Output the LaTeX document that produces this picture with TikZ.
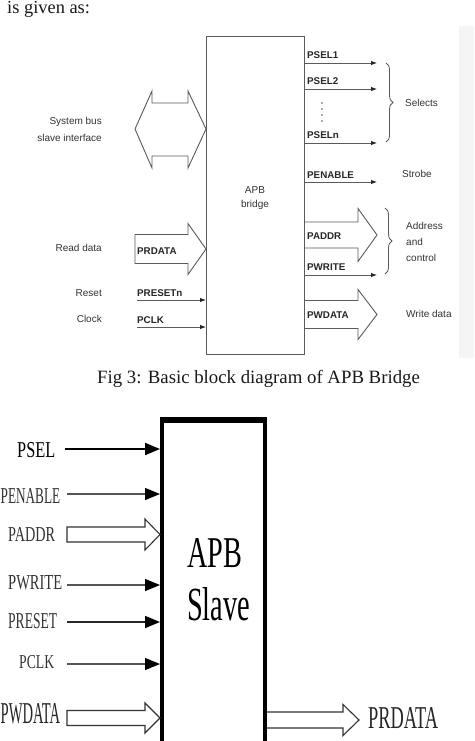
\documentclass[tikz,border=0pt]{standalone}
\usepackage{fontspec}
\setmainfont{Liberation Serif}
\setsansfont{Liberation Sans}
\usetikzlibrary{arrows.meta,decorations.pathreplacing}
\definecolor{tgray}{HTML}{5A5A5A}
\definecolor{tdark}{HTML}{333333}
\definecolor{bgray}{HTML}{555555}
\newcommand\cond[3]{\resizebox{#1pt}{#2pt}{#3}}
\newcommand\blkarrow[8]{%
  \draw[#1] ({#2},{#5-#6}) -- ({#3},{#5-#6}) -- ({#3},{#5-#7}) -- ({#4},{#5}) -- ({#3},{#5+#7}) -- ({#3},{#5+#6}) -- ({#2},{#5+#6}) #8;}
\begin{document}
\begin{tikzpicture}[x=1pt,y=-1pt,
  sig/.style={draw=tgray, line width=0.9pt, -{Latex[length=6pt,width=4.5pt,color=black!85]}},
  blk/.style={draw=tgray, line width=0.9pt},
  lbl/.style={font=\sffamily\bfseries\fontsize{9.8}{11}\selectfont, text=black!85, inner sep=0pt},
  txt/.style={font=\sffamily\fontsize{10}{11.5}\selectfont, text=tdark, inner sep=0pt},
  brc/.style={draw=tgray, line width=0.8pt, decorate, decoration={brace, amplitude=7pt}},
  ser/.style={inner sep=0pt, anchor=base west},
  bsig/.style={draw=bgray, line width=1.2pt, -{Triangle[length=15pt,width=12pt,color=black]}},
  bblk/.style={draw=black!80, line width=1.1pt}]
\clip (0,0) rectangle (474,741);
\fill[white] (0,0) rectangle (474,741);
\fill[black!4] (459,26) rectangle (474,358);

% ---------- top text ----------
\node[ser, font=\fontsize{18.4}{20}\selectfont, text=black!90] (intro) at (7,14) {is given as:};
\node[ser, font=\fontsize{18.8}{21}\selectfont, text=black!90] (caption) at (97,383) {Fig 3: Basic block diagram of APB Bridge};

% ---------- APB bridge ----------
\node[draw=tgray, line width=1pt, minimum width=98pt, minimum height=317pt, inner sep=0pt, outer sep=0pt] (br) at (255,195.5) {};
\node[txt, anchor=base] (brA) at (255,193) {APB};
\node[txt, anchor=base] (brB) at (255,207) {bridge};

% right single signals
\foreach \n/\y in {s1/63, s2/89, sn/143, en/182, wr/275} {
  \coordinate (\n) at (377,\y);
  \draw[sig] (br.east |- \n) -- (\n);
}
\node[lbl, anchor=base west] (ls1) at (307,59) {PSEL1};
\node[lbl, anchor=base west] (ls2) at (307,85) {PSEL2};
\node[lbl, anchor=base west] (lsn) at (307,139) {PSELn};
\node[lbl, anchor=base west] (len) at (307,178) {PENABLE};
\node[lbl, anchor=base west] (lwr) at (307,270) {PWRITE};
\foreach \y in {103,109,115,121} \fill[tgray] (322,\y) circle (0.8);

% right bus arrows
\blkarrow{blk}{304}{358}{377}{235}{13}{26.5}{}
\blkarrow{blk}{304}{358}{377}{314.5}{14}{25}{}
\node[lbl, anchor=west] (lad) at (307,236) {PADDR};
\node[lbl, anchor=west] (lwd) at (307,315) {PWDATA};

% braces and descriptions
\draw[brc] (386,63) -- (386,142);
\draw[brc] (385,208) -- (385,274);
\node[txt, anchor=west] (tsel) at (405,103) {Selects};
\node[txt, anchor=west] (tstr) at (402,174) {Strobe};
\node[txt, anchor=west] (tad1) at (406,226) {Address};
\node[txt, anchor=west] (tad2) at (406,242) {and};
\node[txt, anchor=west] (tad3) at (406,258) {control};
\node[txt, anchor=west] (twd) at (406,314) {Write data};

% left system bus double arrow
\draw[blk] (152,103) -- (152,91) -- (135,129) -- (152,168) -- (152,156) -- (188,156) -- (188,168) -- (206,129) -- (188,91) -- (188,103) -- cycle;
\node[txt, anchor=east] (tsb1) at (102,122) {System bus};
\node[txt, anchor=east] (tsb2) at (102,138) {slave interface};

% left PRDATA bus
\blkarrow{blk}{135}{188}{206}{249}{14.5}{25.5}{-- cycle}
\node[lbl, anchor=west] (lrd) at (137,251) {PRDATA};
\node[txt, anchor=east] (trd) at (102,248) {Read data};

% reset and clock
\coordinate (rs) at (137,300);
\coordinate (ck) at (137,327);
\draw[sig] (rs) -- (br.west |- rs);
\draw[sig] (ck) -- (br.west |- ck);
\node[lbl, anchor=base west] (lrs) at (137,296) {PRESETn};
\node[lbl, anchor=base west] (lck) at (137,323) {PCLK};
\node[txt, anchor=east] (trs) at (102,293) {Reset};
\node[txt, anchor=east] (tck) at (102,319) {Clock};

% ---------- APB slave ----------
\node[draw=black, line width=4pt, minimum width=103pt, minimum height=400pt, inner sep=0pt, anchor=north west] (slave) at (160,417) {};
\fill[black] (160,417) rectangle (267,423);
\node[ser, text=black] (sA) at (187,567) {\cond{55}{29}{APB}};
\node[ser, text=black] (sB) at (187,620) {\cond{63}{33}{Slave}};

% inputs
\coordinate (ipsel) at (65,449);
\coordinate (ipen) at (67,494);
\coordinate (ipwr) at (67,585);
\coordinate (iprs) at (67,622);
\coordinate (ipck) at (67,664);
\draw[bsig, draw=black, line width=2pt] (ipsel) -- (slave.west |- ipsel);
\draw[bsig] (ipen) -- (slave.west |- ipen);
\draw[bsig] (ipwr) -- (slave.west |- ipwr);
\draw[bsig, draw=black!85, line width=1.6pt] (iprs) -- (slave.west |- iprs);
\draw[bsig] (ipck) -- (slave.west |- ipck);

\blkarrow{bblk}{67}{145}{160}{534.5}{7.5}{15.5}{-- cycle}
\blkarrow{bblk}{67}{145}{160}{718}{7.5}{15}{-- cycle}
\blkarrow{bblk}{267}{343}{359}{720}{8}{15.5}{}

\node[ser, text=black] (bpsel) at (17,457) {\cond{38}{15}{PSEL}};
\node[ser, text=black!80] (bpen) at (0.5,503) {\cond{59.5}{15}{PENABLE}};
\node[ser, text=black!80] (bpad) at (8,541.5) {\cond{47}{14}{PADDR}};
\node[ser, text=black!80] (bpwr) at (8,589) {\cond{54}{14}{PWRITE}};
\node[ser, text=black!80] (bprs) at (8,628) {\cond{49}{15}{PRESET}};
\node[ser, text=black!80] (bpck) at (19,668) {\cond{35}{13}{PCLK}};
\node[ser, text=black!85] (bpwd) at (0.5,723) {\cond{59.5}{20}{PWDATA}};
\node[ser, text=black!85] (bprd) at (368,728) {\cond{70}{21}{PRDATA}};
\end{tikzpicture}
\end{document}
